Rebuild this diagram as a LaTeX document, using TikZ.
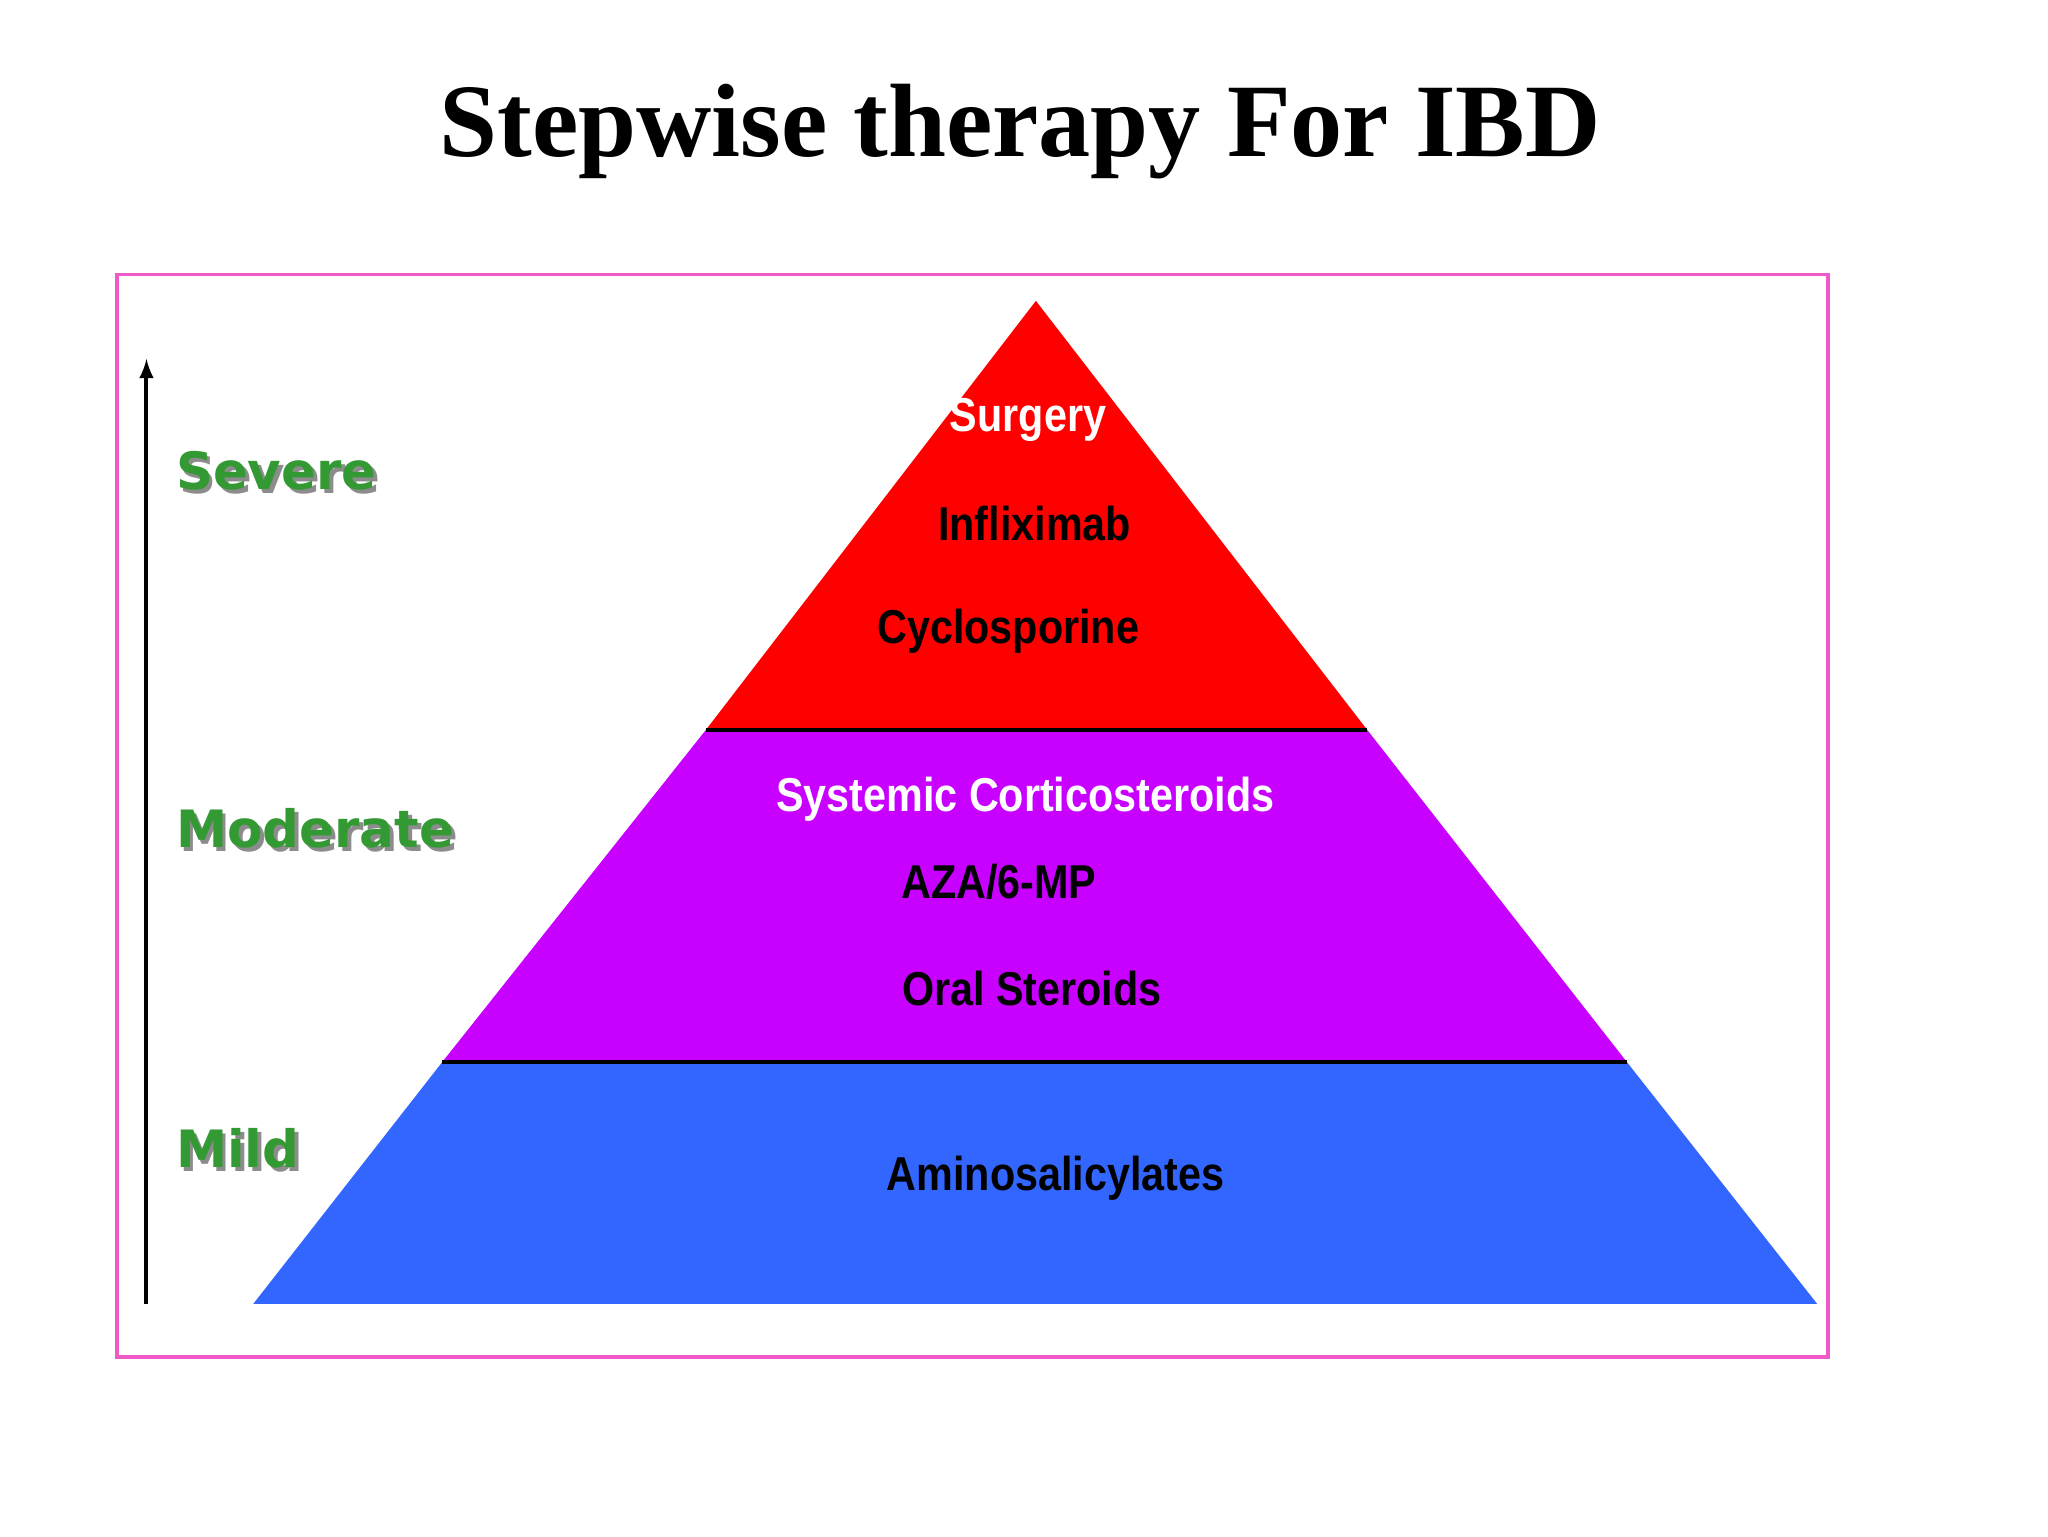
\documentclass[tikz,border=0pt]{standalone}
\usepackage{fontspec}
\setmainfont{Liberation Serif}
\newfontfamily\lab{DejaVu Sans}
\newfontfamily\pyr{Liberation Sans}
\begin{document}
\begin{tikzpicture}[x=0.5pt,y=-0.5pt,
  lvl/.style={font=\lab\bfseries\fontsize{19.5}{24}\selectfont,anchor=west,inner sep=0pt},
  drug/.style={font=\pyr\bfseries\fontsize{18}{21}\selectfont,xscale=0.87}]
\useasboundingbox (0,0) rectangle (1552,1164);
\node[font=\bfseries\fontsize{39.5}{46}\selectfont] (title) at (773,100) {Stepwise therapy For IBD};
\draw[color={rgb,255:red,240;green,90;blue,200},line width=1.5pt] (89,208) rectangle (1385,1028);
\coordinate (apex) at (785,228);
\coordinate (bl) at (192,988);
\coordinate (br) at (1377,988);
\coordinate (l1) at (535,553); \coordinate (r1) at (1036,553);
\coordinate (l2) at (335,805); \coordinate (r2) at (1233,805);
\fill[color={rgb,255:red,255;green,0;blue,0}] (apex) -- (r1) -- (l1) -- cycle;
\fill[color={rgb,255:red,200;green,0;blue,255}] (l1) -- (r1) -- (r2) -- (l2) -- cycle;
\fill[color={rgb,255:red,51;green,102;blue,255}] (l2) -- (r2) -- (br) -- (bl) -- cycle;
\draw[line width=1.6pt] (l1) -- (r1);
\draw[line width=1.6pt] (l2) -- (r2);
\coordinate (a0) at (111,988); \coordinate (a1) at (111,272);
\draw[line width=1.5pt,-latex] (a0) -- (a1);
\foreach \t/\y/\n in {Severe/357/sev,Moderate/628/mod,Mild/870/mil}{
  \node[lvl,text=black!45] at (136,\y+3) {\t};
  \node[lvl,text={rgb,255:red,51;green,153;blue,51}] (\n) at (133,\y) {\t};
}
\node[drug,text=white] (s1) at (779,318) {Surgery};
\node[drug] (s2) at (784,397) {Infliximab};
\node[drug] (s3) at (764,478) {Cyclosporine};
\node[drug,text=white] (m1) at (777,606) {Systemic Corticosteroids};
\node[drug] (m2) at (757,668) {AZA/6-MP};
\node[drug] (m3) at (782,749) {Oral Steroids};
\node[drug] (b1) at (800,893) {Aminosalicylates};
\end{tikzpicture}
\end{document}
